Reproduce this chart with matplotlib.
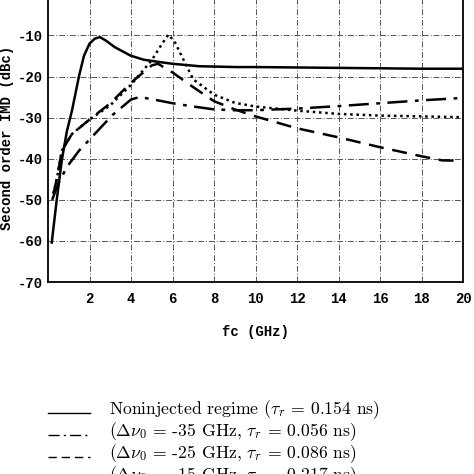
import matplotlib
matplotlib.use('Agg')
import matplotlib.pyplot as plt
from matplotlib.lines import Line2D

# curves (fc in GHz, IMD in dBc)
x_solid = [0.18, 0.42, 0.67, 0.91, 1.15, 1.49, 1.73, 2.0, 2.25, 2.5, 2.8, 3.2, 3.97, 4.6, 5.4, 6.0, 7.3, 9.1, 10, 12, 14, 16, 18, 20]
y_solid = [-60.4, -50, -40.2, -33.3, -28.4, -20, -15, -12, -10.8, -10.4, -11.3, -12.8, -14.9, -15.9, -16.5, -16.9, -17.5, -17.7, -17.7, -17.8, -17.9, -18.0, -18.1, -18.1]

x_dashdot = [0.2, 0.5, 0.91, 1.5, 1.97, 3.1, 4.0, 4.4, 5.0, 6.0, 7.0, 8.0, 9.0, 10, 11, 12, 14, 16, 18, 20]
y_dashdot = [-50, -46, -42, -38, -35.5, -29.4, -25.6, -25.0, -25.5, -26.5, -27.3, -28.0, -28.2, -28.2, -28.0, -27.8, -27.2, -26.5, -25.8, -25.2]

x_dashed = [0.26, 0.42, 0.67, 1.15, 1.97, 3.0, 4.0, 5.0, 5.3, 6.0, 7.0, 8.0, 9.0, 10, 12, 14, 16, 18, 19, 20]
y_dashed = [-48.5, -45, -38, -34, -30.6, -26.5, -21.5, -17.3, -16.9, -19.0, -22.6, -26.0, -28.0, -29.7, -32.6, -34.8, -37.2, -39.4, -40.4, -40.5]

x_dotted = [0.26, 0.42, 0.67, 1.15, 1.97, 3.0, 4.0, 5.0, 5.5, 5.8, 6.1, 6.4, 7.0, 8.0, 9.0, 10, 12, 14, 16, 18, 20]
y_dotted = [-48.5, -45, -38, -34, -30.6, -27.0, -22.0, -16.0, -12.0, -9.8, -11.5, -14.6, -20.7, -24.4, -26.4, -27.3, -28.3, -29.1, -29.5, -29.7, -29.9]

x_ticks = [2, 4, 6, 8, 10, 12, 14, 16, 18, 20]
y_ticks = [-70, -60, -50, -40, -30, -20, -10]

labels = [r'Noninjected regime ($\tau_r$ = 0.154 ns)',
          r'($\Delta\nu_0$ = -35 GHz, $\tau_r$ = 0.056 ns)',
          r'($\Delta\nu_0$ = -25 GHz, $\tau_r$ = 0.086 ns)',
          r'($\Delta\nu_0$ = -15 GHz, $\tau_r$ = 0.217 ns)']

plt.rcParams['mathtext.fontset'] = 'cm'

mono = {'family': 'Liberation Mono', 'weight': 'bold', 'size': 10}

styles = ['-', (0, (8, 3, 1.5, 3)), (0, (6, 3.5)), (0, (1, 1.5))]
widths = [1.8, 1.8, 1.8, 1.8]

fig = plt.figure(figsize=(4.74, 4.74), dpi=100)
ax = fig.add_axes([0.1013, 0.405, 0.8755, 0.607])
ax.set_xlim(0, 20)
ax.set_ylim(-70, 0)

series = [(x_solid, y_solid), (x_dashdot, y_dashdot), (x_dashed, y_dashed), (x_dotted, y_dotted)]
for (xs, ys), ls, lw in zip(series, styles, widths):
    ax.plot(xs, ys, color='black', linestyle=ls, linewidth=lw)

ax.set_xticks(x_ticks)
ax.set_yticks(y_ticks)
ax.set_xticklabels([str(v) for v in x_ticks], fontdict=mono)
ax.set_yticklabels([str(v) for v in y_ticks], fontdict=mono)
ax.tick_params(axis='x', length=0, pad=7)
ax.tick_params(axis='y', length=0, pad=4)
ax.grid(True, color='#555555', linestyle=(0, (6, 2, 1, 2)), linewidth=0.7)
for s in ax.spines.values():
    s.set_linewidth(1.3)

ax.set_xlabel('fc (GHz)', fontdict=mono, labelpad=14)
ax.set_ylabel('Second order IMD (dBc)', fontdict=mono)
ax.yaxis.set_label_coords(-0.082, 0.502)

# hand-made legend under the plot
rows = [410, 432, 454, 476]
for ls, lab, ypx in zip(styles, labels, rows):
    yf = 1 - (ypx + 3) / 474
    fig.add_artist(Line2D([48 / 474, 90 / 474], [yf, yf], color='black',
                          linestyle=ls, linewidth=1.0, transform=fig.transFigure))
    fig.text(109 / 474, 1 - ypx / 474, lab, family='cmr10', size=12.7, va='center')

fig.savefig('out.png', dpi=100)
